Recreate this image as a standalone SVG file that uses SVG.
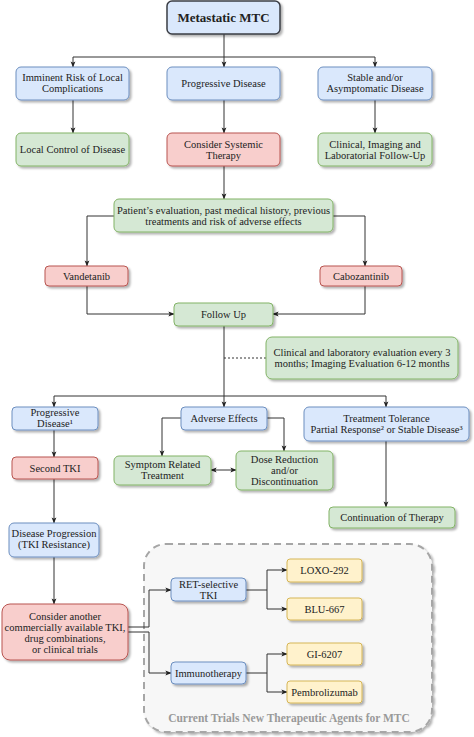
<svg xmlns="http://www.w3.org/2000/svg" width="474" height="737" viewBox="0 0 474 737">
<defs>
<filter id="sh" x="-10%" y="-10%" width="130%" height="140%">
<feDropShadow dx="2" dy="2" stdDeviation="1" flood-color="#000" flood-opacity="0.3"/>
</filter>
<marker id="ah" viewBox="0 0 8 8" refX="7.5" refY="4" markerWidth="6" markerHeight="6" orient="auto-start-reverse" markerUnits="userSpaceOnUse">
<path d="M0,0.8 L8,4 L0,7.2 L1.8,4 Z" fill="#222"/>
</marker>
<style>
text{font-family:"Liberation Serif","DejaVu Serif",serif;font-size:10.5px;fill:#222;text-anchor:middle}
.b rect{fill:#dae8fc;stroke:#6c8ebf;stroke-width:1}
.g rect{fill:#d5e8d4;stroke:#82b366;stroke-width:1}
.r rect{fill:#f8cecc;stroke:#b85450;stroke-width:1}
.y rect{fill:#fff2cc;stroke:#d6b656;stroke-width:1}
rect{filter:url(#sh)}
#connectors path{fill:none;stroke:#333;stroke-width:1}
.a{marker-end:url(#ah)}
</style>
</defs>
<rect width="474" height="737" fill="#fff" style="filter:none"/>

<g id="trials-container">
<rect x="144" y="544" width="288" height="188" rx="22" fill="#f7f7f7" stroke="#a6a6a6" stroke-width="2" stroke-dasharray="7,5"/>
<text x="289" y="722" style="font-weight:bold;fill:#9a9a9a;font-size:11.5px">Current Trials New Therapeutic Agents for MTC</text>
</g>

<g id="connectors">
<path class="a" d="M224,34 V67"/>
<path d="M73,57 H375"/>
<path class="a" d="M73,57 V67"/>
<path class="a" d="M375,57 V67"/>
<path class="a" d="M73,100 V133"/>
<path class="a" d="M224,100 V133"/>
<path class="a" d="M375,100 V133"/>
<path class="a" d="M224,166 V199"/>
<path class="a" d="M114,216 H87 V266"/>
<path class="a" d="M333,216 H365 V266"/>
<path class="a" d="M87,286 V314 H174"/>
<path class="a" d="M365,286 V314 H273"/>
<path d="M224,326 V396"/>
<path d="M224,358 H266" style="stroke-dasharray:2,2"/>
<path d="M54,396 H386"/>
<path class="a" d="M54,396 V407"/>
<path class="a" d="M224,396 V407"/>
<path class="a" d="M386,396 V407"/>
<path class="a" d="M181,418 H162 V456"/>
<path class="a" d="M267,418 H284 V451"/>
<path class="a" d="M211,470 H236" style="marker-start:url(#ah)"/>
<path class="a" d="M54,430 V457"/>
<path class="a" d="M54,479 V523"/>
<path class="a" d="M54,557 V604"/>
<path class="a" d="M386,441 V507"/>
<path class="a" d="M128,627 H149 V590 H171"/>
<path class="a" d="M128,632 H149 V673 H171"/>
<path class="a" d="M246,590 H267 V570 H287"/>
<path class="a" d="M267,590 V609 H287"/>
<path class="a" d="M246,673 H267 V654 H287"/>
<path class="a" d="M267,673 V692 H287"/>
</g>

<g id="metastatic-mtc" class="b">
<rect x="167" y="1" width="113" height="33" rx="5" style="stroke:#3b3e44;stroke-width:1.5"/>
<text x="223.5" y="22" style="font-weight:bold;font-size:13px">Metastatic MTC</text>
</g>
<g id="imminent-risk" class="b">
<rect x="16" y="67" width="113" height="33" rx="5"/>
<text x="72.5" y="81">Imminent Risk of Local</text>
<text x="72.5" y="92">Complications</text>
</g>
<g id="progressive-disease" class="b">
<rect x="167" y="67" width="113" height="33" rx="5"/>
<text x="223.5" y="87">Progressive Disease</text>
</g>
<g id="stable-disease" class="b">
<rect x="318" y="67" width="114" height="33" rx="5"/>
<text x="375" y="81">Stable and/or</text>
<text x="375" y="92">Asymptomatic Disease</text>
</g>
<g id="local-control" class="g">
<rect x="16" y="133" width="113" height="33" rx="5"/>
<text x="72.5" y="153">Local Control of Disease</text>
</g>
<g id="consider-systemic" class="r">
<rect x="167" y="133" width="113" height="33" rx="5"/>
<text x="223.5" y="148">Consider Systemic</text>
<text x="223.5" y="159">Therapy</text>
</g>
<g id="clinical-followup" class="g">
<rect x="318" y="133" width="114" height="33" rx="5"/>
<text x="375" y="148">Clinical, Imaging and</text>
<text x="375" y="159">Laboratorial Follow-Up</text>
</g>
<g id="patient-evaluation" class="g">
<rect x="114" y="199" width="219" height="33" rx="5"/>
<text x="223.5" y="214">Patient’s evaluation, past medical history, previous</text>
<text x="223.5" y="225">treatments and risk of adverse effects</text>
</g>
<g id="vandetanib" class="r">
<rect x="45" y="266" width="83" height="20" rx="4"/>
<text x="86.5" y="280">Vandetanib</text>
</g>
<g id="cabozantinib" class="r">
<rect x="320" y="266" width="82" height="20" rx="4"/>
<text x="361" y="280">Cabozantinib</text>
</g>
<g id="follow-up" class="g">
<rect x="174" y="303" width="99" height="23" rx="4"/>
<text x="223.5" y="318">Follow Up</text>
</g>
<g id="clinical-evaluation" class="g">
<rect x="266" y="337" width="192" height="42" rx="6"/>
<text x="362" y="356">Clinical and laboratory evaluation every 3</text>
<text x="362" y="367">months; Imaging Evaluation 6-12 months</text>
</g>
<g id="progressive-disease-1" class="b">
<rect x="12" y="407" width="86" height="23" rx="4"/>
<text x="55" y="416">Progressive</text>
<text x="55" y="427">Disease¹</text>
</g>
<g id="adverse-effects" class="b">
<rect x="181" y="407" width="86" height="23" rx="4"/>
<text x="224" y="422">Adverse Effects</text>
</g>
<g id="treatment-tolerance" class="b">
<rect x="304" y="407" width="165" height="34" rx="5"/>
<text x="386.5" y="422">Treatment Tolerance</text>
<text x="386.5" y="433">Partial Response² or Stable Disease³</text>
</g>
<g id="symptom-treatment" class="g">
<rect x="114" y="456" width="97" height="29" rx="5"/>
<text x="162.5" y="468">Symptom Related</text>
<text x="162.5" y="479">Treatment</text>
</g>
<g id="dose-reduction" class="g">
<rect x="236" y="451" width="97" height="39" rx="5"/>
<text x="284.5" y="463">Dose Reduction</text>
<text x="284.5" y="474">and/or</text>
<text x="284.5" y="485">Discontinuation</text>
</g>
<g id="second-tki" class="r">
<rect x="12" y="457" width="86" height="22" rx="4"/>
<text x="55" y="472">Second TKI</text>
</g>
<g id="continuation-therapy" class="g">
<rect x="329" y="507" width="126" height="21" rx="4"/>
<text x="392" y="521">Continuation of Therapy</text>
</g>
<g id="disease-progression" class="b">
<rect x="9" y="523" width="90" height="34" rx="5"/>
<text x="54" y="537">Disease Progression</text>
<text x="54" y="548">(TKI Resistance)</text>
</g>
<g id="consider-another" class="r">
<rect x="2" y="604" width="126" height="56" rx="8"/>
<text x="65" y="620">Consider another</text>
<text x="65" y="631">commercially available TKI,</text>
<text x="65" y="642">drug combinations,</text>
<text x="65" y="653">or clinical trials</text>
</g>
<g id="ret-selective-tki" class="b">
<rect x="171" y="578" width="75" height="23" rx="4"/>
<text x="208.5" y="588">RET-selective</text>
<text x="208.5" y="599">TKI</text>
</g>
<g id="immunotherapy" class="b">
<rect x="171" y="662" width="75" height="22" rx="4"/>
<text x="208.5" y="677">Immunotherapy</text>
</g>
<g id="loxo-292" class="y">
<rect x="287" y="559" width="75" height="23" rx="3"/>
<text x="324.5" y="574">LOXO-292</text>
</g>
<g id="blu-667" class="y">
<rect x="287" y="598" width="75" height="22" rx="3"/>
<text x="324.5" y="613">BLU-667</text>
</g>
<g id="gi-6207" class="y">
<rect x="287" y="643" width="75" height="22" rx="3"/>
<text x="324.5" y="658">GI-6207</text>
</g>
<g id="pembrolizumab" class="y">
<rect x="287" y="681" width="75" height="22" rx="3"/>
<text x="324.5" y="696">Pembrolizumab</text>
</g>
</svg>
